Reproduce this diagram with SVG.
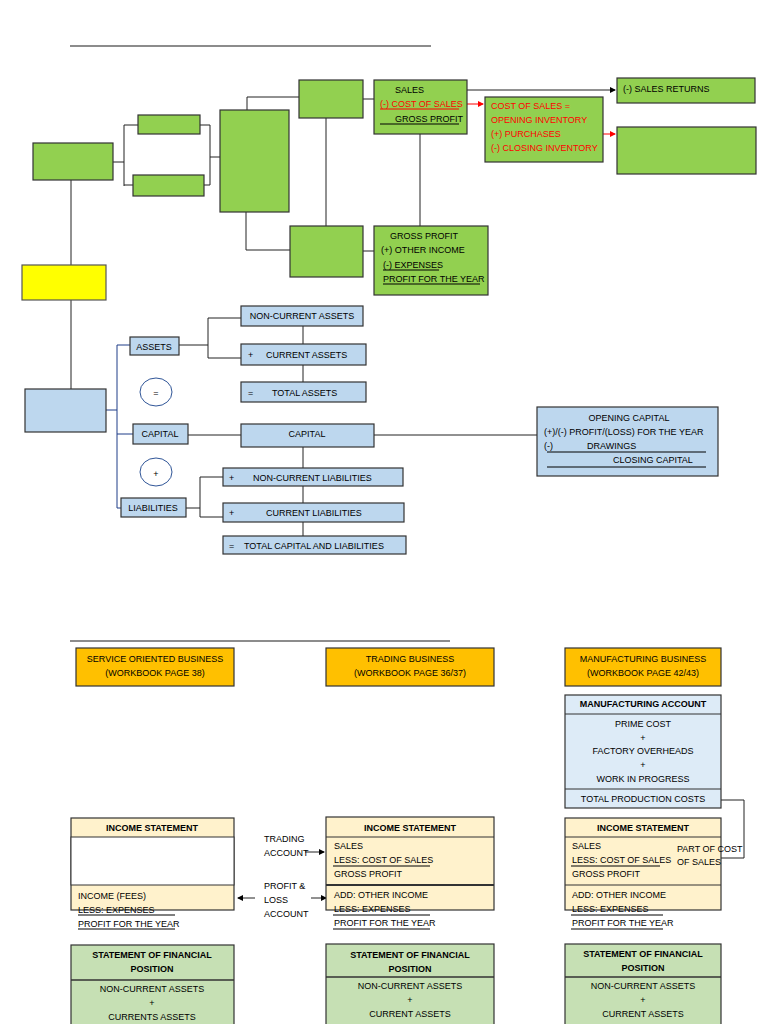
<svg xmlns="http://www.w3.org/2000/svg" width="768" height="1024" viewBox="0 0 768 1024">
<defs>
<marker id="ab" markerWidth="6" markerHeight="6" refX="5" refY="3" orient="auto"><path d="M0,0 L6,3 L0,6 z" fill="#000"/></marker>
<marker id="ar" markerWidth="6" markerHeight="6" refX="5" refY="3" orient="auto"><path d="M0,0 L6,3 L0,6 z" fill="#f00"/></marker>
</defs>
<style>
text{font-family:"Liberation Sans",Arial,sans-serif;font-size:9px;fill:#000}
.g{fill:#92D050;stroke:#333;stroke-width:1.2}
.b{fill:#BDD7EE;stroke:#333;stroke-width:1.2}
.o{fill:#FFC000;stroke:#333;stroke-width:1.2}
.y{fill:#FFF2CC;stroke:#333;stroke-width:1.2}
.lb{fill:#DDEBF7;stroke:#333;stroke-width:1.2}
.sg{fill:#C6E0B4;stroke:#333;stroke-width:1.2}
.c{fill:none;stroke:#222;stroke-width:1}
.cb{fill:none;stroke:#1F3C88;stroke-width:1}
.r{fill:#f00}
.m{text-anchor:middle}
.bd{font-weight:bold}
.u{stroke:#000;stroke-width:1}
</style>
<line x1="70" y1="46" x2="431" y2="46" stroke="#666" stroke-width="1.5"/>
<line x1="70" y1="641" x2="450" y2="641" stroke="#666" stroke-width="1.5"/>
<g id="connectors">
<path class="c" d="M113,162H124M124,125V186M124,125H138M124,185H133M200,125H210M204,185H210M210,125V185M210,157H220"/>
<path class="c" d="M247,110V97H299M246,212V250H290M326,118V226M363,99H374M420,134V226M363,251H374"/>
<path class="c" d="M420,90H615" marker-end="url(#ab)"/>
<path d="M463,104H483" stroke="#f00" fill="none" marker-end="url(#ar)"/>
<path d="M563,134H615" stroke="#f00" fill="none" marker-end="url(#ar)"/>
<path class="c" d="M71,180V265M71,300V389"/>
<path class="cb" d="M106,410H117M117,345V508M117,345H130M117,434H133M117,508H121"/>
<path class="c" d="M179,345H208M208,318V358M208,318H241M208,358H241M303,326V344M303,365V382"/>
<path class="c" d="M188,435H241M374,435H537M303,447V468M186,508H200M200,477V517M200,477H223M200,517H223M303,486V503M303,522V536"/>
<path class="c" d="M305,852H324" marker-end="url(#ab)"/>
<path class="c" d="M255,898H238" marker-end="url(#ab)"/>
<path class="c" d="M311,898H326" marker-end="url(#ab)"/>
<path class="c" d="M712,800H744V858H666" marker-end="url(#ab)"/>
</g>
<g id="n1"><rect class="g" x="33" y="143" width="80" height="37"/></g>
<g id="n2"><rect class="g" x="138" y="115" width="62" height="19"/></g>
<g id="n3"><rect class="g" x="133" y="175" width="71" height="21"/></g>
<g id="n4"><rect class="g" x="220" y="110" width="69" height="102"/></g>
<g id="n5"><rect class="g" x="299" y="80" width="64" height="38"/></g>
<g id="n6"><rect class="g" x="290" y="226" width="73" height="51"/></g>
<g id="n7"><rect class="g" x="374" y="80" width="93" height="54"/>
<text x="395" y="93">SALES</text>
<text x="380" y="107" class="r">(-) COST OF SALES</text><line x1="380" y1="109" x2="459" y2="109" stroke="#f00"/>
<text x="395" y="122">GROSS PROFIT</text><line x1="380" y1="124" x2="459" y2="124" class="u"/></g>
<g id="n8"><rect class="g" x="374" y="226" width="114" height="69"/>
<text x="390" y="239">GROSS PROFIT</text>
<text x="381" y="253">(+) OTHER INCOME</text>
<text x="383" y="268">(-) EXPENSES</text><line x1="383" y1="270" x2="439" y2="270" class="u"/>
<text x="383" y="282">PROFIT FOR THE YEAR</text><line x1="383" y1="284" x2="480" y2="284" class="u"/></g>
<g id="n9"><rect class="g" x="485" y="97" width="118" height="65"/>
<text x="491" y="109" class="r">COST OF SALES =</text>
<text x="491" y="123" class="r">OPENING INVENTORY</text>
<text x="491" y="137" class="r">(+) PURCHASES</text>
<text x="491" y="151" class="r">(-) CLOSING INVENTORY</text></g>
<g id="n10"><rect class="g" x="617" y="78" width="138" height="25"/><text x="623" y="92">(-) SALES RETURNS</text></g>
<g id="n11"><rect class="g" x="617" y="127" width="139" height="47"/></g>
<g id="n12"><rect x="22" y="265" width="84" height="35" fill="#FFFF00" stroke="#555" stroke-width="1.2"/></g>
<g id="n13"><rect class="b" x="25" y="389" width="81" height="43"/></g>
<g id="n14"><rect class="b" x="130" y="337" width="49" height="18"/><text x="154" y="350" class="m">ASSETS</text></g>
<g id="n15"><rect class="b" x="133" y="424" width="55" height="20"/><text x="160" y="437" class="m">CAPITAL</text></g>
<g id="n16"><rect class="b" x="121" y="498" width="65" height="19"/><text x="153" y="511" class="m">LIABILITIES</text></g>
<g id="n17"><rect class="b" x="241" y="306" width="122" height="20"/><text x="302" y="319" class="m">NON-CURRENT ASSETS</text></g>
<g id="n18"><rect class="b" x="241" y="344" width="125" height="21"/><text x="248" y="358" font-size="13">+</text><text x="266" y="358">CURRENT ASSETS</text></g>
<g id="n19"><rect class="b" x="241" y="382" width="125" height="20"/><text x="248" y="396" font-size="12">=</text><text x="272" y="396">TOTAL ASSETS</text></g>
<g id="n20"><ellipse cx="156" cy="392" rx="16" ry="14" fill="#fff" stroke="#2F5597"/><text x="156" y="396" class="m" font-size="12">=</text></g>
<g id="n21"><ellipse cx="156" cy="472" rx="16" ry="14" fill="#fff" stroke="#2F5597"/><text x="156" y="477" class="m" font-size="13">+</text></g>
<g id="n22"><rect class="b" x="241" y="424" width="133" height="23"/><text x="307" y="437" class="m">CAPITAL</text></g>
<g id="n23"><rect class="b" x="537" y="407" width="181" height="69"/>
<text x="629" y="421" class="m">OPENING CAPITAL</text>
<text x="544" y="435">(+)/(-) PROFIT/(LOSS)  FOR THE YEAR</text>
<text x="544" y="449">(-)</text><text x="587" y="449">DRAWINGS</text>
<line x1="547" y1="452" x2="706" y2="452" class="u"/>
<text x="613" y="463">CLOSING CAPITAL</text>
<line x1="547" y1="467" x2="706" y2="467" class="u"/></g>
<g id="n24"><rect class="b" x="223" y="468" width="180" height="18"/><text x="229" y="481" font-size="13">+</text><text x="253" y="481">NON-CURRENT LIABILITIES</text></g>
<g id="n25"><rect class="b" x="223" y="503" width="181" height="19"/><text x="229" y="516" font-size="13">+</text><text x="266" y="516">CURRENT LIABILITIES</text></g>
<g id="n26"><rect class="b" x="223" y="536" width="183" height="18"/><text x="229" y="549" font-size="12">=</text><text x="244" y="549">TOTAL CAPITAL AND LIABILITIES</text></g>
<g id="o1"><rect class="o" x="76" y="648" width="158" height="38"/><text x="155" y="662" class="m">SERVICE ORIENTED BUSINESS</text><text x="155" y="676" class="m">(WORKBOOK PAGE 38)</text></g>
<g id="o2"><rect class="o" x="326" y="648" width="168" height="38"/><text x="410" y="662" class="m">TRADING BUSINESS</text><text x="410" y="676" class="m">(WORKBOOK PAGE 36/37)</text></g>
<g id="o3"><rect class="o" x="565" y="648" width="156" height="38"/><text x="643" y="662" class="m">MANUFACTURING BUSINESS</text><text x="643" y="676" class="m">(WORKBOOK PAGE 42/43)</text></g>
<g id="ma"><rect class="lb" x="565" y="695" width="156" height="113"/>
<line x1="565" y1="714" x2="721" y2="714" stroke="#333"/><line x1="565" y1="789" x2="721" y2="789" stroke="#333"/>
<text x="643" y="707" class="m bd">MANUFACTURING ACCOUNT</text>
<text x="643" y="727" class="m">PRIME COST</text><text x="643" y="741" class="m">+</text>
<text x="643" y="754" class="m">FACTORY OVERHEADS</text><text x="643" y="768" class="m">+</text>
<text x="643" y="782" class="m">WORK IN PROGRESS</text>
<text x="643" y="802" class="m">TOTAL PRODUCTION COSTS</text></g>
<g id="is1"><rect class="y" x="71" y="818" width="163" height="92"/><rect x="71" y="837" width="163" height="48" fill="#fff" stroke="#333"/>
<text x="152" y="831" class="m bd">INCOME STATEMENT</text>
<text x="78" y="899">INCOME (FEES)</text><text x="78" y="913">LESS: EXPENSES</text><line x1="78" y1="915" x2="175" y2="915" class="u"/>
<text x="78" y="927">PROFIT FOR THE YEAR</text><line x1="78" y1="929" x2="175" y2="929" class="u"/></g>
<g id="is2"><rect class="y" x="326" y="817" width="168" height="93"/>
<line x1="326" y1="837" x2="494" y2="837" stroke="#333"/><line x1="326" y1="885" x2="494" y2="885" stroke="#333" stroke-width="2"/>
<text x="410" y="831" class="m bd">INCOME STATEMENT</text>
<text x="334" y="849">SALES</text><text x="334" y="863">LESS:  COST OF SALES</text><line x1="333" y1="866" x2="430" y2="866" class="u"/>
<text x="334" y="877">GROSS PROFIT</text>
<text x="334" y="898">ADD: OTHER INCOME</text><text x="334" y="912">LESS: EXPENSES</text><line x1="333" y1="915" x2="430" y2="915" class="u"/>
<text x="334" y="926">PROFIT FOR THE YEAR</text><line x1="333" y1="929" x2="430" y2="929" class="u"/></g>
<g id="is3"><rect class="y" x="565" y="818" width="156" height="92"/>
<line x1="565" y1="837" x2="721" y2="837" stroke="#333"/><line x1="565" y1="885" x2="721" y2="885" stroke="#333"/>
<text x="643" y="831" class="m bd">INCOME STATEMENT</text>
<text x="572" y="849">SALES</text><text x="572" y="863">LESS: COST OF SALES</text><line x1="571" y1="866" x2="660" y2="866" class="u"/>
<text x="572" y="877">GROSS PROFIT</text>
<text x="572" y="898">ADD: OTHER INCOME</text><text x="572" y="912">LESS: EXPENSES</text><line x1="571" y1="915" x2="663" y2="915" class="u"/>
<text x="572" y="926">PROFIT FOR THE YEAR</text><line x1="571" y1="929" x2="663" y2="929" class="u"/></g>
<text x="677" y="852" font-size="8">PART OF COST</text><text x="677" y="865" font-size="8">OF SALES</text>
<text x="264" y="842">TRADING</text><text x="264" y="856">ACCOUNT</text>
<text x="264" y="889">PROFIT &amp;</text><text x="264" y="903">LOSS</text><text x="264" y="917">ACCOUNT</text>
<g id="sf1"><rect class="sg" x="71" y="945" width="163" height="90"/><line x1="71" y1="980" x2="234" y2="980" stroke="#333" stroke-width="1.5"/>
<text x="152" y="958" class="m bd">STATEMENT OF FINANCIAL</text><text x="152" y="972" class="m bd">POSITION</text>
<text x="152" y="992" class="m">NON-CURRENT ASSETS</text><text x="152" y="1006" class="m">+</text><text x="152" y="1020" class="m">CURRENTS ASSETS</text></g>
<g id="sf2"><rect class="sg" x="326" y="944" width="168" height="90"/><line x1="326" y1="977" x2="494" y2="977" stroke="#333" stroke-width="1.5"/>
<text x="410" y="958" class="m bd">STATEMENT OF FINANCIAL</text><text x="410" y="972" class="m bd">POSITION</text>
<text x="410" y="989" class="m">NON-CURRENT ASSETS</text><text x="410" y="1003" class="m">+</text><text x="410" y="1017" class="m">CURRENT ASSETS</text></g>
<g id="sf3"><rect class="sg" x="565" y="944" width="156" height="90"/><line x1="565" y1="977" x2="721" y2="977" stroke="#333" stroke-width="1.5"/>
<text x="643" y="957" class="m bd">STATEMENT OF FINANCIAL</text><text x="643" y="971" class="m bd">POSITION</text>
<text x="643" y="989" class="m">NON-CURRENT ASSETS</text><text x="643" y="1003" class="m">+</text><text x="643" y="1017" class="m">CURRENT ASSETS</text></g>
</svg>
